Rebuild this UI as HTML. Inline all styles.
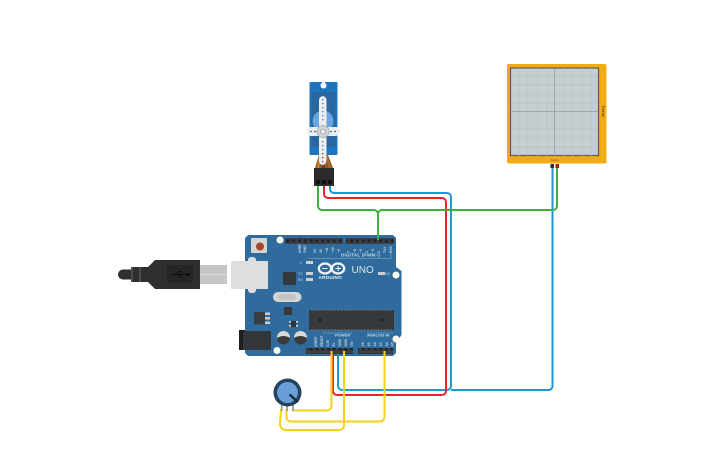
<!DOCTYPE html>
<html><head><meta charset="utf-8"><style>
html,body{margin:0;padding:0;background:#fff;width:725px;height:453px;overflow:hidden}
svg{display:block}
text{font-family:"Liberation Sans",sans-serif}
</style></head><body>
<svg width="725" height="453" viewBox="0 0 725 453" xmlns="http://www.w3.org/2000/svg">
<defs>
<pattern id="hdr" x="285" y="238" width="5.8" height="6" patternUnits="userSpaceOnUse"><rect width="5.8" height="6" fill="#3d3f42"/><rect x="1.4" y="1.4" width="3" height="3" fill="#232323"/></pattern>
</defs>

<!-- USB plug -->
<path d="M118 274.500a5 5 0 0 1 5-5h8v-2.500h17l5-5 2-2h45v29h-45l-2-2-5-5h-17v-2.500h-8a5 5 0 0 1-5-5z" fill="#2f2f2f"/>
<rect x="167" y="265" width="26" height="18" fill="#262626"/>
<rect x="131" y="267" width="2" height="15" fill="#4c4c4c"/><rect x="139" y="267" width="2" height="15" fill="#4c4c4c"/>
<path d="M171 274.500h17" stroke="#0e0e0e" stroke-width="1"/>
<path d="M176 274.500l3-3h4M178 274.500l3 3h2" stroke="#0e0e0e" stroke-width=".8" fill="none"/>
<circle cx="188" cy="274.500" r="1.800" fill="#0e0e0e"/>
<rect x="200" y="265" width="27" height="19" fill="#c6c6c6"/>
<rect x="200" y="274" width="27" height="1" fill="#d8d8d8"/>

<!-- Board -->
<path d="M248 235H393l3 3V267l5.500 4V335l-5.500 8V353l-3 3H248l-3-3V238z" fill="#2f6c9d"/>
<rect x="231" y="261" width="37" height="28" fill="#dedede"/>
<rect x="248" y="257" width="8" height="36" rx="3" fill="#dedede"/>
<!-- reset -->
<rect x="251" y="238" width="16" height="15" rx="1" fill="#d5d5d5"/>
<circle cx="260" cy="246.500" r="4" fill="#a5452f"/>
<!-- mounting holes -->
<circle cx="280" cy="240" r="3.500" fill="#fbfbf0"/>
<circle cx="396" cy="275" r="3.500" fill="#fbfbf0"/>
<circle cx="396" cy="339" r="3.500" fill="#fbfbf0"/>
<circle cx="277" cy="350.500" r="3.500" fill="#fbfbf0"/>
<!-- headers -->
<rect x="285" y="238" width="58" height="6" fill="url(#hdr)"/>
<rect x="346" y="238" width="48" height="6" fill="url(#hdr)"/>
<rect x="306" y="348" width="47" height="6" fill="url(#hdr)"/>
<rect x="358" y="348" width="35" height="6" fill="url(#hdr)"/>
<!-- labels top -->
<g fill="#c9d9e6" font-size="3.400" font-weight="bold">
<text transform="translate(301,253)rotate(-90)">AREF</text>
<text transform="translate(306,253)rotate(-90)">GND</text>
<text transform="translate(316,253)rotate(-90)">13</text><text transform="translate(322,253)rotate(-90)">12</text>
<text transform="translate(328,253)rotate(-90)">~11</text><text transform="translate(334,253)rotate(-90)">~10</text>
<text transform="translate(340,253)rotate(-90)">~9</text>
<text transform="translate(350,253)rotate(-90)">7</text><text transform="translate(356,253)rotate(-90)">~6</text>
<text transform="translate(362,253)rotate(-90)">~5</text><text transform="translate(368,253)rotate(-90)">4</text>
<text transform="translate(374,253)rotate(-90)">~3</text><text transform="translate(380,253)rotate(-90)">2</text>
<text transform="translate(386,253)rotate(-90)">TX1</text><text transform="translate(392,253)rotate(-90)">RX0</text>
</g>
<text x="341" y="256.500" font-size="4.600" font-weight="bold" fill="#c9d9e6" letter-spacing=".2">DIGITAL (PWM~)</text>
<path d="M308 258.500H391V253" stroke="#8fb1cb" stroke-width=".6" fill="none"/>
<!-- LEDs -->
<g fill="#c9d9e6" font-size="3.600"><text x="300" y="264">L</text><text x="298" y="275">TX</text><text x="298" y="281">RX</text></g>
<rect x="306" y="261" width="7" height="3" fill="#cfcfcf"/>
<rect x="306" y="272" width="7" height="3" fill="#cfcfcf"/>
<rect x="306" y="278" width="7" height="3" fill="#cfcfcf"/>
<rect x="378" y="272" width="7" height="3" fill="#cfcfcf"/>
<text x="385" y="275" font-size="3.200" fill="#c9d9e6">ON</text>
<!-- logo -->
<g fill="none" stroke="#f2f6f9" stroke-width="2.200">
<ellipse cx="325" cy="268.500" rx="6.200" ry="5"/><ellipse cx="338" cy="268.500" rx="6.200" ry="5"/>
</g>
<path d="M322 268.500h5.500M335.500 268.500h5.500M338.200 266v5" stroke="#f2f6f9" stroke-width="1"/>
<text x="318.500" y="279" font-size="4.600" font-weight="bold" fill="#eef3f7" letter-spacing=".3">ARDUINO</text>
<text x="351.500" y="273" font-size="10" fill="#d6e3ed">UNO</text>
<!-- ICs & crystal -->
<rect x="283" y="272" width="13" height="13" fill="#34393d"/>
<rect x="273" y="292" width="28.500" height="10" rx="5" fill="#d6d6d6"/>
<rect x="278" y="294" width="18" height="6" rx="3" fill="#c3c3c3"/>
<rect x="284" y="307" width="8" height="8" fill="#34393d"/>
<rect x="309" y="310" width="85" height="20" fill="#36393c"/>
<circle cx="320" cy="320" r="1.800" fill="#222"/><circle cx="382" cy="320" r="1.800" fill="#222"/>
<path d="M311 310h81" stroke="#777" stroke-width="1" stroke-dasharray="2 1.300"/>
<path d="M311 330h81" stroke="#777" stroke-width="1" stroke-dasharray="2 1.300"/>
<!-- regulator -->
<rect x="254" y="312" width="11" height="12.500" fill="#3a3d40"/>
<rect x="265" y="312.500" width="5" height="2.500" fill="#ccc"/><rect x="265" y="317" width="5" height="2.500" fill="#ccc"/><rect x="265" y="321.500" width="5" height="2.500" fill="#ccc"/>
<rect x="291" y="321" width="5" height="6" fill="#333"/>
<rect x="289" y="321" width="2" height="1.500" fill="#ddd"/><rect x="289" y="325" width="2" height="1.500" fill="#ddd"/><rect x="296" y="321" width="2" height="1.500" fill="#ddd"/><rect x="296" y="325" width="2" height="1.500" fill="#ddd"/>
<!-- jack -->
<rect x="239" y="330" width="6" height="20" fill="#1f1f1f"/>
<rect x="243" y="331" width="28" height="19" rx="1" fill="#33363a"/>
<!-- caps -->
<circle cx="283.500" cy="337.500" r="6.500" fill="#d9d9d9"/><path d="M277 338a6.500 6.500 0 0 0 13 0q-6.500-4-13 0z" fill="#3b3b3b"/>
<circle cx="300.500" cy="337.500" r="6.500" fill="#d9d9d9"/><path d="M294 338a6.500 6.500 0 0 0 13 0q-6.500-4-13 0z" fill="#3b3b3b"/>
<!-- labels bottom -->
<text x="335" y="336.500" font-size="4" font-weight="bold" fill="#c9d9e6">POWER</text>
<text x="367" y="336.500" font-size="4" font-weight="bold" fill="#c9d9e6">ANALOG IN</text>
<path d="M323 333H352M367 333H393" stroke="#8fb1cb" stroke-width=".5"/>
<g fill="#c9d9e6" font-size="3.300" font-weight="bold">
<text transform="translate(317,346.500)rotate(-90)">IOREF</text><text transform="translate(323,346.500)rotate(-90)">RESET</text>
<text transform="translate(329,346.500)rotate(-90)">3.3V</text><text transform="translate(335,346.500)rotate(-90)">5V</text>
<text transform="translate(341,346.500)rotate(-90)">GND</text><text transform="translate(347,346.500)rotate(-90)">GND</text><text transform="translate(353,346.500)rotate(-90)">Vin</text>
<text transform="translate(364,346.500)rotate(-90)">A0</text><text transform="translate(370,346.500)rotate(-90)">A1</text><text transform="translate(376,346.500)rotate(-90)">A2</text>
<text transform="translate(382,346.500)rotate(-90)">A3</text><text transform="translate(388,346.500)rotate(-90)">A4</text><text transform="translate(393.500,346.500)rotate(-90)">A5</text>
</g>

<!-- Servo -->
<rect x="309.500" y="82" width="28" height="73" rx="1" fill="#1c75bd"/>
<rect x="311.500" y="92" width="24" height="55" fill="#2a67a0"/>
<circle cx="323.500" cy="85.500" r="3" fill="#fff"/><rect x="322" y="81" width="3" height="3" fill="#fff"/>
<circle cx="323" cy="121" r="10.500" fill="#6aa5e0"/>
<path d="M319 155L315 168H333L328 155z" fill="#8a5a2a"/>
<path d="M320.500 155L318 168" stroke="#e08a20" stroke-width="2"/><path d="M326.500 155L330 168" stroke="#a86a30" stroke-width="2"/><path d="M323.500 155v13" stroke="#a02020" stroke-width="2.500"/>
<path d="M319 100a3.500 3.500 0 0 1 7.500 0V127h9a4.500 4.500 0 0 1 0 9h-9V160a3.700 5 0 0 1-7.500 0V136h-8a4.500 4.500 0 0 1 0-9h8z" fill="#eceef0"/>
<circle cx="323" cy="131.500" r="6" fill="#d0d4d7" stroke="#a4a8ac" stroke-width=".8"/>
<circle cx="323" cy="131.500" r="2.500" fill="#eee" stroke="#888" stroke-width=".6"/>
<path d="M322.700 99V123M322.700 141V152" stroke="#3f78ad" stroke-width="1.300" stroke-dasharray="1.300 2.700"/>
<path d="M322.700 153V163" stroke="#8a2020" stroke-width="1.300" stroke-dasharray="1.300 2.700"/>
<path d="M310 131.500h2M314 131.500h2M330 131.500h2M334 131.500h2" stroke="#3f78ad" stroke-width="1.300"/>
<rect x="314" y="168" width="20" height="18" fill="#2b2b2b"/>
<rect x="316" y="180" width="4" height="4" fill="#111"/><rect x="322" y="180" width="4" height="4" fill="#111"/><rect x="328" y="180" width="4" height="4" fill="#111"/>

<!-- Force sensor -->
<rect x="507" y="64" width="99.500" height="99.500" rx="2" fill="#f2ab13"/>
<rect x="510.500" y="68" width="88" height="87.500" fill="#c5ced0" stroke="#5a5d5c" stroke-width="1.200"/>
<path d="M519 68V156M528 68V156M538 68V156M547 68V156M564 68V156M573 68V156M582 68V156M591 68V156M511 76H598M511 85H598M511 94H598M511 103H598M511 120H598M511 129H598M511 138H598M511 147H598" stroke="#b9c3c5" stroke-width=".7" fill="none"/>
<path d="M554.500 68V156M511 111.500H598" stroke="#949ea0" stroke-width=".8"/>
<text transform="translate(602,106)rotate(90)" font-size="4" font-weight="bold" fill="#55400a">Force</text>
<text x="551" y="161" font-size="3" fill="#6b4d05">Force</text>
<rect x="550.500" y="164" width="3.500" height="4" fill="#2b2b2b"/>
<rect x="555.500" y="164" width="3.500" height="4" fill="#a51d1d"/>

<!-- Wires -->
<g fill="none" stroke-width="2" stroke-linejoin="round">
<path stroke="#1a9ad0" d="M330 186V189a4 4 0 0 0 4 4H447a4 4 0 0 1 4 4V386a4 4 0 0 1-4 4H342a4 4 0 0 1-4-4V354"/>
<path stroke="#1a9ad0" d="M451 390H548a4 4 0 0 0 4.500-4V168"/>
<path stroke="#e02828" d="M324 186V194a4 4 0 0 0 4 4H442a4 4 0 0 1 4 4V391a4 4 0 0 1-4 4H337a4 4 0 0 1-4-4V354"/>
<path stroke="#3daf45" d="M318 186V206a4 4 0 0 0 4 4H374a4 4 0 0 1 4 4V240"/>
<path stroke="#3daf45" d="M378 214a4 4 0 0 1 4-4H553a4 4 0 0 0 4-4V168"/>
<path stroke="#f5d31a" d="M293 410.500H326a5 5 0 0 0 5.500-5V351"/>
<path stroke="#f5d31a" d="M286.500 409V417a4.500 4.500 0 0 0 4.500 4.500H380a4.500 4.500 0 0 0 4.500-4.500V351"/>
<path stroke="#f5d31a" d="M281 409L280 424a6 6 0 0 0 6 6H339a5 5 0 0 0 5-5V351"/>
</g>

<!-- Potentiometer -->
<path d="M281.700 404v7M287 404v7M293 404v7" stroke="#9a9a9a" stroke-width="1.800"/>
<circle cx="287.500" cy="392.500" r="14" fill="#24435f"/>
<circle cx="287.500" cy="392.500" r="10.500" fill="#6a9ed6"/>
<path d="M289.500 394.500L298 402" stroke="#13293d" stroke-width="2.500"/>
</svg>
</body></html>
